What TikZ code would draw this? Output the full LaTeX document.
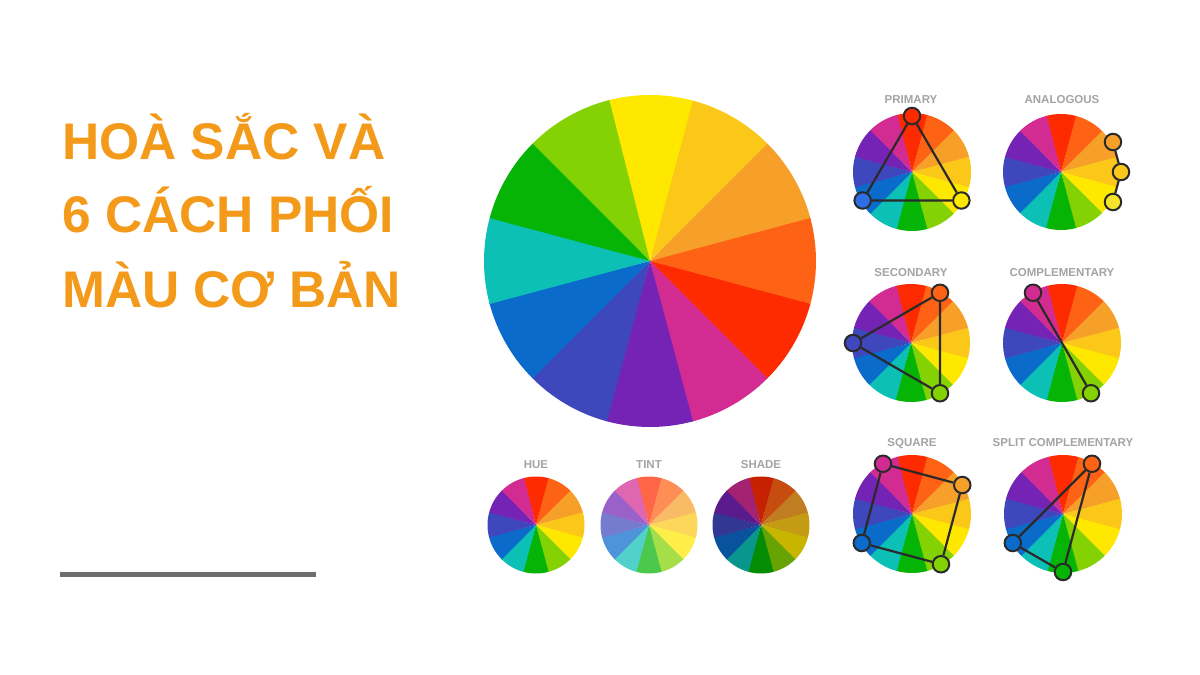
\documentclass[tikz,border=0pt]{standalone}
\usepackage{fontspec}
\setmainfont{Liberation Sans}
\definecolor{cY}{HTML}{FFE800}
\definecolor{cYO}{HTML}{FBC81A}
\definecolor{cO}{HTML}{F6A02A}
\definecolor{cRO}{HTML}{FE6214}
\definecolor{cR}{HTML}{FE2A00}
\definecolor{cM}{HTML}{D22C92}
\definecolor{cP}{HTML}{7423B5}
\definecolor{cBV}{HTML}{3F47BC}
\definecolor{cB}{HTML}{0B6BCB}
\definecolor{cT}{HTML}{0CC0B5}
\definecolor{cG}{HTML}{06B406}
\definecolor{cYG}{HTML}{84D104}
\definecolor{mblue}{HTML}{2E6EE6}
\definecolor{myel}{HTML}{F4E42C}
\definecolor{titleorange}{HTML}{F49A1A}
\definecolor{labelgray}{HTML}{A4A4A4}
\definecolor{linedark}{HTML}{2A2A2A}
\definecolor{bargray}{HTML}{6E6E6E}
\newcommand\cwheel[5]{%
  \foreach \col [count=\i from 0] in {#4} {
    \pgfmathsetmacro\aa{-105+30*\i}
    \pgfmathsetmacro\bb{-75+30*\i+0.8}
    \fill[fill={\col#5}] (#1,#2) -- +(\aa:#3) arc[start angle=\aa, end angle=\bb, radius=#3] -- cycle;
  }}
\begin{document}
\begin{tikzpicture}[x=1bp,y=-1bp,
  hmark/.style={circle, draw=linedark, line width=2bp, minimum size=16.5bp, inner sep=0pt},
  link/.style={draw=linedark, line width=2.2bp},
  wlabel/.style={font=\fontsize{11.5bp}{13bp}\selectfont\bfseries, text=labelgray, anchor=base},
  title/.style={font=\fontsize{51.5bp}{60bp}\selectfont\bfseries, text=titleorange, anchor=base west, inner sep=0pt}]
\useasboundingbox (0,0) rectangle (1200,675);
\fill[white] (0,0) rectangle (1200,675);

% title
\node[title] (t1) at (62,160) {HOÀ SẮC VÀ};
\node[title] (t2) at (62,233) {6 CÁCH PHỐI};
\node[title] (t3) at (62,307) {MÀU CƠ BẢN};
\fill[bargray] (60,572) rectangle (316,577);

% big wheel
\cwheel{650}{261}{166}{cY,cYO,cO,cRO,cR,cM,cP,cBV,cB,cT,cG,cYG}{}

% hue / tint / shade
\cwheel{536}{525}{48.5}{cR,cRO,cO,cYO,cY,cYG,cG,cT,cB,cBV,cP,cM}{}
\cwheel{649}{525}{48.5}{cR,cRO,cO,cYO,cY,cYG,cG,cT,cB,cBV,cP,cM}{!72!white}
\cwheel{761}{525}{48.5}{cR,cRO,cO,cYO,cY,cYG,cG,cT,cB,cBV,cP,cM}{!78!black}
\node[wlabel] (lhue) at (536,468) {HUE};
\node[wlabel] (ltint) at (649,468) {TINT};
\node[wlabel] (lshade) at (761,468) {SHADE};

% small wheels
\cwheel{912}{172}{59}{cR,cRO,cO,cYO,cY,cYG,cG,cT,cB,cBV,cP,cM}{}
\cwheel{1061}{172}{58}{cR,cRO,cO,cYO,cY,cYG,cG,cT,cB,cBV,cP,cM}{}
\cwheel{911}{343}{59}{cR,cRO,cO,cYO,cY,cYG,cG,cT,cB,cBV,cP,cM}{}
\cwheel{1062}{343}{59}{cR,cRO,cO,cYO,cY,cYG,cG,cT,cB,cBV,cP,cM}{}
\cwheel{912}{514}{59}{cR,cRO,cO,cYO,cY,cYG,cG,cT,cB,cBV,cP,cM}{}
\cwheel{1063}{514}{59}{cR,cRO,cO,cYO,cY,cYG,cG,cT,cB,cBV,cP,cM}{}

\coordinate (pw) at (912,172);
\coordinate (aw) at (1061,172);
\coordinate (sw) at (911,343);
\coordinate (cw) at (1062,343);
\coordinate (qw) at (912,514);
\coordinate (xw) at (1063,514);

\node[wlabel] (lpri) at (911,104) {PRIMARY};
\node[wlabel] (lana) at (1062,104) {ANALOGOUS};
\node[wlabel] (lsec) at (911,276) {SECONDARY};
\node[wlabel] (lcom) at (1062,276) {COMPLEMENTARY};
\node[wlabel] (lsq) at (912,446) {SQUARE};
\node[wlabel] (lspl) at (1063,446) {SPLIT COMPLEMENTARY};

% primary
\node[hmark, fill=cR] (p1) at ([shift={(-90:56)}]pw) {};
\node[hmark, fill=mblue] (p2) at ([shift={(150:57)}]pw) {};
\node[hmark, fill=cY] (p3) at ([shift={(30:57)}]pw) {};
\draw[link] (p1) -- (p2) -- (p3) -- (p1);

% analogous
\node[hmark, fill=cO] (a1) at ([shift={(-30:60)}]aw) {};
\node[hmark, fill=cYO] (a2) at ([shift={(0:60)}]aw) {};
\node[hmark, fill=myel] (a3) at ([shift={(30:60)}]aw) {};
\draw[link] (a1) -- (a2) -- (a3);

% secondary
\node[hmark, fill=cRO] (s1) at ([shift={(-60:58)}]sw) {};
\node[hmark, fill=cBV] (s2) at ([shift={(180:58)}]sw) {};
\node[hmark, fill=cYG] (s3) at ([shift={(60:58)}]sw) {};
\draw[link] (s1) -- (s2) -- (s3) -- (s1);

% complementary
\node[hmark, fill=cM] (c1) at ([shift={(-120:58)}]cw) {};
\node[hmark, fill=cYG] (c2) at ([shift={(60:58)}]cw) {};
\draw[link] (c1) -- (c2);

% square
\node[hmark, fill=cM] (q1) at ([shift={(-120:58)}]qw) {};
\node[hmark, fill=cO] (q2) at ([shift={(-30:58)}]qw) {};
\node[hmark, fill=cYG] (q3) at ([shift={(60:58)}]qw) {};
\node[hmark, fill=cB] (q4) at ([shift={(150:58)}]qw) {};
\draw[link] (q1) -- (q2) -- (q3) -- (q4) -- (q1);

% split complementary
\node[hmark, fill=cRO] (x1) at ([shift={(-60:58)}]xw) {};
\node[hmark, fill=cG] (x2) at ([shift={(90:58)}]xw) {};
\node[hmark, fill=cB] (x3) at ([shift={(150:58)}]xw) {};
\draw[link] (x1) -- (x2) -- (x3) -- (x1);
\end{tikzpicture}
\end{document}
